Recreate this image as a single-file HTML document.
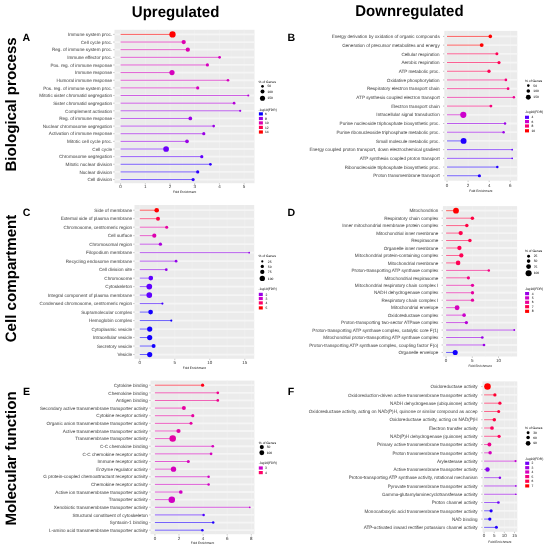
<!DOCTYPE html>
<html><head><meta charset="utf-8"><style>
html,body{margin:0;padding:0;background:#fff;width:550px;height:549px;overflow:hidden}
svg{display:block;font-family:"Liberation Sans", sans-serif;filter:blur(0.45px)} text{text-rendering:geometricPrecision}
</style></head><body>
<svg width="550" height="549" viewBox="0 0 550 549">
<rect width="550" height="549" fill="#fff"/>
<rect x="114.5" y="29.8" width="140" height="153.4" fill="#ebebeb"/>
<line x1="132.95" y1="29.8" x2="132.95" y2="183.2" stroke="#eeeeee" stroke-width="0.5"/>
<line x1="157.65" y1="29.8" x2="157.65" y2="183.2" stroke="#eeeeee" stroke-width="0.5"/>
<line x1="182.35" y1="29.8" x2="182.35" y2="183.2" stroke="#eeeeee" stroke-width="0.5"/>
<line x1="207.05" y1="29.8" x2="207.05" y2="183.2" stroke="#eeeeee" stroke-width="0.5"/>
<line x1="231.75" y1="29.8" x2="231.75" y2="183.2" stroke="#eeeeee" stroke-width="0.5"/>
<line x1="120.6" y1="29.8" x2="120.6" y2="183.2" stroke="#f1f1f1" stroke-width="0.7"/>
<line x1="145.3" y1="29.8" x2="145.3" y2="183.2" stroke="#f1f1f1" stroke-width="0.7"/>
<line x1="170" y1="29.8" x2="170" y2="183.2" stroke="#f1f1f1" stroke-width="0.7"/>
<line x1="194.7" y1="29.8" x2="194.7" y2="183.2" stroke="#f1f1f1" stroke-width="0.7"/>
<line x1="219.4" y1="29.8" x2="219.4" y2="183.2" stroke="#f1f1f1" stroke-width="0.7"/>
<line x1="244.1" y1="29.8" x2="244.1" y2="183.2" stroke="#f1f1f1" stroke-width="0.7"/>
<line x1="114.5" y1="34.4" x2="254.5" y2="34.4" stroke="#f5f5f5" stroke-width="1.8"/>
<line x1="114.5" y1="42.04" x2="254.5" y2="42.04" stroke="#f5f5f5" stroke-width="1.8"/>
<line x1="114.5" y1="49.68" x2="254.5" y2="49.68" stroke="#f5f5f5" stroke-width="1.8"/>
<line x1="114.5" y1="57.32" x2="254.5" y2="57.32" stroke="#f5f5f5" stroke-width="1.8"/>
<line x1="114.5" y1="64.96" x2="254.5" y2="64.96" stroke="#f5f5f5" stroke-width="1.8"/>
<line x1="114.5" y1="72.6" x2="254.5" y2="72.6" stroke="#f5f5f5" stroke-width="1.8"/>
<line x1="114.5" y1="80.24" x2="254.5" y2="80.24" stroke="#f5f5f5" stroke-width="1.8"/>
<line x1="114.5" y1="87.88" x2="254.5" y2="87.88" stroke="#f5f5f5" stroke-width="1.8"/>
<line x1="114.5" y1="95.52" x2="254.5" y2="95.52" stroke="#f5f5f5" stroke-width="1.8"/>
<line x1="114.5" y1="103.16" x2="254.5" y2="103.16" stroke="#f5f5f5" stroke-width="1.8"/>
<line x1="114.5" y1="110.8" x2="254.5" y2="110.8" stroke="#f5f5f5" stroke-width="1.8"/>
<line x1="114.5" y1="118.44" x2="254.5" y2="118.44" stroke="#f5f5f5" stroke-width="1.8"/>
<line x1="114.5" y1="126.08" x2="254.5" y2="126.08" stroke="#f5f5f5" stroke-width="1.8"/>
<line x1="114.5" y1="133.72" x2="254.5" y2="133.72" stroke="#f5f5f5" stroke-width="1.8"/>
<line x1="114.5" y1="141.36" x2="254.5" y2="141.36" stroke="#f5f5f5" stroke-width="1.8"/>
<line x1="114.5" y1="149" x2="254.5" y2="149" stroke="#f5f5f5" stroke-width="1.8"/>
<line x1="114.5" y1="156.64" x2="254.5" y2="156.64" stroke="#f5f5f5" stroke-width="1.8"/>
<line x1="114.5" y1="164.28" x2="254.5" y2="164.28" stroke="#f5f5f5" stroke-width="1.8"/>
<line x1="114.5" y1="171.92" x2="254.5" y2="171.92" stroke="#f5f5f5" stroke-width="1.8"/>
<line x1="114.5" y1="179.56" x2="254.5" y2="179.56" stroke="#f5f5f5" stroke-width="1.8"/>
<line x1="120.6" y1="34.4" x2="172.5" y2="34.4" stroke="#ff0000" stroke-width="1.0" stroke-opacity="0.62"/>
<circle cx="172.5" cy="34.4" r="3.15" fill="#ff0000"/>
<line x1="113.2" y1="34.4" x2="114.5" y2="34.4" stroke="#777" stroke-width="0.45"/>
<text x="112.1" y="36.1" text-anchor="end" font-size="4.63" fill="#585858" stroke="#585858" stroke-width="0.06">Immune system proc.</text>
<line x1="120.6" y1="42.04" x2="183.7" y2="42.04" stroke="#dd00af" stroke-width="1.0" stroke-opacity="0.62"/>
<circle cx="183.7" cy="42.04" r="2.15" fill="#dd00af"/>
<line x1="113.2" y1="42.04" x2="114.5" y2="42.04" stroke="#777" stroke-width="0.45"/>
<text x="112.1" y="43.74" text-anchor="end" font-size="4.63" fill="#585858" stroke="#585858" stroke-width="0.06">Cell cycle proc.</text>
<line x1="120.6" y1="49.68" x2="187.8" y2="49.68" stroke="#dd00af" stroke-width="1.0" stroke-opacity="0.62"/>
<circle cx="187.8" cy="49.68" r="2.15" fill="#dd00af"/>
<line x1="113.2" y1="49.68" x2="114.5" y2="49.68" stroke="#777" stroke-width="0.45"/>
<text x="112.1" y="51.38" text-anchor="end" font-size="4.63" fill="#585858" stroke="#585858" stroke-width="0.06">Reg. of immune system proc.</text>
<line x1="120.6" y1="57.32" x2="219.6" y2="57.32" stroke="#d500bd" stroke-width="1.0" stroke-opacity="0.62"/>
<circle cx="219.6" cy="57.32" r="1.35" fill="#d500bd"/>
<line x1="113.2" y1="57.32" x2="114.5" y2="57.32" stroke="#777" stroke-width="0.45"/>
<text x="112.1" y="59.02" text-anchor="end" font-size="4.63" fill="#585858" stroke="#585858" stroke-width="0.06">Immune effector proc.</text>
<line x1="120.6" y1="64.96" x2="207.4" y2="64.96" stroke="#d500bd" stroke-width="1.0" stroke-opacity="0.62"/>
<circle cx="207.4" cy="64.96" r="1.6" fill="#d500bd"/>
<line x1="113.2" y1="64.96" x2="114.5" y2="64.96" stroke="#777" stroke-width="0.45"/>
<text x="112.1" y="66.66" text-anchor="end" font-size="4.63" fill="#585858" stroke="#585858" stroke-width="0.06">Pos. reg. of immune response</text>
<line x1="120.6" y1="72.6" x2="172" y2="72.6" stroke="#d500bd" stroke-width="1.0" stroke-opacity="0.62"/>
<circle cx="172" cy="72.6" r="2.6" fill="#d500bd"/>
<line x1="113.2" y1="72.6" x2="114.5" y2="72.6" stroke="#777" stroke-width="0.45"/>
<text x="112.1" y="74.3" text-anchor="end" font-size="4.63" fill="#585858" stroke="#585858" stroke-width="0.06">Immune response</text>
<line x1="120.6" y1="80.24" x2="228" y2="80.24" stroke="#d500bd" stroke-width="1.0" stroke-opacity="0.62"/>
<circle cx="228" cy="80.24" r="1.35" fill="#d500bd"/>
<line x1="113.2" y1="80.24" x2="114.5" y2="80.24" stroke="#777" stroke-width="0.45"/>
<text x="112.1" y="81.94" text-anchor="end" font-size="4.63" fill="#585858" stroke="#585858" stroke-width="0.06">Humoral immune response</text>
<line x1="120.6" y1="87.88" x2="197.7" y2="87.88" stroke="#d500bd" stroke-width="1.0" stroke-opacity="0.62"/>
<circle cx="197.7" cy="87.88" r="1.6" fill="#d500bd"/>
<line x1="113.2" y1="87.88" x2="114.5" y2="87.88" stroke="#777" stroke-width="0.45"/>
<text x="112.1" y="89.58" text-anchor="end" font-size="4.63" fill="#585858" stroke="#585858" stroke-width="0.06">Pos. reg. of immune system proc.</text>
<line x1="120.6" y1="95.52" x2="248.3" y2="95.52" stroke="#b500d8" stroke-width="1.0" stroke-opacity="0.62"/>
<circle cx="248.3" cy="95.52" r="1.1" fill="#b500d8"/>
<line x1="113.2" y1="95.52" x2="114.5" y2="95.52" stroke="#777" stroke-width="0.45"/>
<text x="112.1" y="97.22" text-anchor="end" font-size="4.63" fill="#585858" stroke="#585858" stroke-width="0.06">Mitotic sister chromatid segregation</text>
<line x1="120.6" y1="103.16" x2="234.1" y2="103.16" stroke="#b500d8" stroke-width="1.0" stroke-opacity="0.62"/>
<circle cx="234.1" cy="103.16" r="1.35" fill="#b500d8"/>
<line x1="113.2" y1="103.16" x2="114.5" y2="103.16" stroke="#777" stroke-width="0.45"/>
<text x="112.1" y="104.86" text-anchor="end" font-size="4.63" fill="#585858" stroke="#585858" stroke-width="0.06">Sister chromatid segregation</text>
<line x1="120.6" y1="110.8" x2="240.2" y2="110.8" stroke="#9a00e6" stroke-width="1.0" stroke-opacity="0.62"/>
<circle cx="240.2" cy="110.8" r="1.1" fill="#9a00e6"/>
<line x1="113.2" y1="110.8" x2="114.5" y2="110.8" stroke="#777" stroke-width="0.45"/>
<text x="112.1" y="112.5" text-anchor="end" font-size="4.63" fill="#585858" stroke="#585858" stroke-width="0.06">Complement activation</text>
<line x1="120.6" y1="118.44" x2="190.3" y2="118.44" stroke="#9a00e6" stroke-width="1.0" stroke-opacity="0.62"/>
<circle cx="190.3" cy="118.44" r="1.85" fill="#9a00e6"/>
<line x1="113.2" y1="118.44" x2="114.5" y2="118.44" stroke="#777" stroke-width="0.45"/>
<text x="112.1" y="120.14" text-anchor="end" font-size="4.63" fill="#585858" stroke="#585858" stroke-width="0.06">Reg. of immune response</text>
<line x1="120.6" y1="126.08" x2="213.7" y2="126.08" stroke="#9a00e6" stroke-width="1.0" stroke-opacity="0.62"/>
<circle cx="213.7" cy="126.08" r="1.35" fill="#9a00e6"/>
<line x1="113.2" y1="126.08" x2="114.5" y2="126.08" stroke="#777" stroke-width="0.45"/>
<text x="112.1" y="127.78" text-anchor="end" font-size="4.63" fill="#585858" stroke="#585858" stroke-width="0.06">Nuclear chromosome segregation</text>
<line x1="120.6" y1="133.72" x2="203.8" y2="133.72" stroke="#9a00e6" stroke-width="1.0" stroke-opacity="0.62"/>
<circle cx="203.8" cy="133.72" r="1.6" fill="#9a00e6"/>
<line x1="113.2" y1="133.72" x2="114.5" y2="133.72" stroke="#777" stroke-width="0.45"/>
<text x="112.1" y="135.42" text-anchor="end" font-size="4.63" fill="#585858" stroke="#585858" stroke-width="0.06">Activation of immune response</text>
<line x1="120.6" y1="141.36" x2="187" y2="141.36" stroke="#9a00e6" stroke-width="1.0" stroke-opacity="0.62"/>
<circle cx="187" cy="141.36" r="1.85" fill="#9a00e6"/>
<line x1="113.2" y1="141.36" x2="114.5" y2="141.36" stroke="#777" stroke-width="0.45"/>
<text x="112.1" y="143.06" text-anchor="end" font-size="4.63" fill="#585858" stroke="#585858" stroke-width="0.06">Mitotic cell cycle proc.</text>
<line x1="120.6" y1="149" x2="166.1" y2="149" stroke="#6c00fa" stroke-width="1.0" stroke-opacity="0.62"/>
<circle cx="166.1" cy="149" r="2.85" fill="#6c00fa"/>
<line x1="113.2" y1="149" x2="114.5" y2="149" stroke="#777" stroke-width="0.45"/>
<text x="112.1" y="150.7" text-anchor="end" font-size="4.63" fill="#585858" stroke="#585858" stroke-width="0.06">Cell cycle</text>
<line x1="120.6" y1="156.64" x2="201.8" y2="156.64" stroke="#6000ff" stroke-width="1.0" stroke-opacity="0.62"/>
<circle cx="201.8" cy="156.64" r="1.6" fill="#6000ff"/>
<line x1="113.2" y1="156.64" x2="114.5" y2="156.64" stroke="#777" stroke-width="0.45"/>
<text x="112.1" y="158.34" text-anchor="end" font-size="4.63" fill="#585858" stroke="#585858" stroke-width="0.06">Chromosome segregation</text>
<line x1="120.6" y1="164.28" x2="210.4" y2="164.28" stroke="#2d00ff" stroke-width="1.0" stroke-opacity="0.62"/>
<circle cx="210.4" cy="164.28" r="1.35" fill="#2d00ff"/>
<line x1="113.2" y1="164.28" x2="114.5" y2="164.28" stroke="#777" stroke-width="0.45"/>
<text x="112.1" y="165.98" text-anchor="end" font-size="4.63" fill="#585858" stroke="#585858" stroke-width="0.06">Mitotic nuclear division</text>
<line x1="120.6" y1="171.92" x2="197.7" y2="171.92" stroke="#2d00ff" stroke-width="1.0" stroke-opacity="0.62"/>
<circle cx="197.7" cy="171.92" r="1.6" fill="#2d00ff"/>
<line x1="113.2" y1="171.92" x2="114.5" y2="171.92" stroke="#777" stroke-width="0.45"/>
<text x="112.1" y="173.62" text-anchor="end" font-size="4.63" fill="#585858" stroke="#585858" stroke-width="0.06">Nuclear division</text>
<line x1="120.6" y1="179.56" x2="193.1" y2="179.56" stroke="#2d00ff" stroke-width="1.0" stroke-opacity="0.62"/>
<circle cx="193.1" cy="179.56" r="1.6" fill="#2d00ff"/>
<line x1="113.2" y1="179.56" x2="114.5" y2="179.56" stroke="#777" stroke-width="0.45"/>
<text x="112.1" y="181.26" text-anchor="end" font-size="4.63" fill="#585858" stroke="#585858" stroke-width="0.06">Cell division</text>
<line x1="120.6" y1="183.2" x2="120.6" y2="184.6" stroke="#888" stroke-width="0.45"/>
<text x="120.6" y="188.2" text-anchor="middle" font-size="4.5" fill="#333">0</text>
<line x1="145.3" y1="183.2" x2="145.3" y2="184.6" stroke="#888" stroke-width="0.45"/>
<text x="145.3" y="188.2" text-anchor="middle" font-size="4.5" fill="#333">1</text>
<line x1="170" y1="183.2" x2="170" y2="184.6" stroke="#888" stroke-width="0.45"/>
<text x="170" y="188.2" text-anchor="middle" font-size="4.5" fill="#333">2</text>
<line x1="194.7" y1="183.2" x2="194.7" y2="184.6" stroke="#888" stroke-width="0.45"/>
<text x="194.7" y="188.2" text-anchor="middle" font-size="4.5" fill="#333">3</text>
<line x1="219.4" y1="183.2" x2="219.4" y2="184.6" stroke="#888" stroke-width="0.45"/>
<text x="219.4" y="188.2" text-anchor="middle" font-size="4.5" fill="#333">4</text>
<line x1="244.1" y1="183.2" x2="244.1" y2="184.6" stroke="#888" stroke-width="0.45"/>
<text x="244.1" y="188.2" text-anchor="middle" font-size="4.5" fill="#333">5</text>
<text x="184.5" y="193.1" text-anchor="middle" font-size="3.2" fill="#111">Fold Enrichment</text>
<text x="22.6" y="40.5" font-size="10.6" font-weight="bold" fill="#000">A</text>
<text x="258.6" y="82.7" font-size="3.3" fill="#000">% of Genes</text>
<circle cx="262.5" cy="86.3" r="1.35" fill="#000"/>
<text x="267.4" y="87.4" font-size="3.3" fill="#000">50</text>
<circle cx="262.5" cy="91.6" r="2" fill="#000"/>
<text x="267.4" y="92.7" font-size="3.3" fill="#000">100</text>
<circle cx="262.5" cy="98.2" r="2.55" fill="#000"/>
<text x="267.4" y="99.3" font-size="3.3" fill="#000">150</text>
<text x="258.6" y="110.6" font-size="3.3" fill="#000">-log10(FDR)</text>
<rect x="258.9" y="112.3" width="4" height="3.2" fill="#0000ff"/>
<text x="265" y="115" font-size="3.3" fill="#000">6</text>
<rect x="258.9" y="116.9" width="4" height="3.2" fill="#9a00e6"/>
<text x="265" y="119.6" font-size="3.3" fill="#000">8</text>
<rect x="258.9" y="121.3" width="4" height="3.2" fill="#dd00af"/>
<text x="265" y="124" font-size="3.3" fill="#000">10</text>
<rect x="258.9" y="125.8" width="4" height="3.2" fill="#ff004d"/>
<text x="265" y="128.5" font-size="3.3" fill="#000">12</text>
<rect x="258.9" y="130.4" width="4" height="3.2" fill="#ff0000"/>
<text x="265" y="133.1" font-size="3.3" fill="#000">14</text>
<rect x="444.3" y="30.9" width="73" height="149.8" fill="#ebebeb"/>
<line x1="457.55" y1="30.9" x2="457.55" y2="180.7" stroke="#eeeeee" stroke-width="0.5"/>
<line x1="478.65" y1="30.9" x2="478.65" y2="180.7" stroke="#eeeeee" stroke-width="0.5"/>
<line x1="499.75" y1="30.9" x2="499.75" y2="180.7" stroke="#eeeeee" stroke-width="0.5"/>
<line x1="447" y1="30.9" x2="447" y2="180.7" stroke="#f1f1f1" stroke-width="0.7"/>
<line x1="468.1" y1="30.9" x2="468.1" y2="180.7" stroke="#f1f1f1" stroke-width="0.7"/>
<line x1="489.2" y1="30.9" x2="489.2" y2="180.7" stroke="#f1f1f1" stroke-width="0.7"/>
<line x1="510.3" y1="30.9" x2="510.3" y2="180.7" stroke="#f1f1f1" stroke-width="0.7"/>
<line x1="444.3" y1="36.4" x2="517.3" y2="36.4" stroke="#f5f5f5" stroke-width="1.8"/>
<line x1="444.3" y1="45.11" x2="517.3" y2="45.11" stroke="#f5f5f5" stroke-width="1.8"/>
<line x1="444.3" y1="53.82" x2="517.3" y2="53.82" stroke="#f5f5f5" stroke-width="1.8"/>
<line x1="444.3" y1="62.53" x2="517.3" y2="62.53" stroke="#f5f5f5" stroke-width="1.8"/>
<line x1="444.3" y1="71.24" x2="517.3" y2="71.24" stroke="#f5f5f5" stroke-width="1.8"/>
<line x1="444.3" y1="79.95" x2="517.3" y2="79.95" stroke="#f5f5f5" stroke-width="1.8"/>
<line x1="444.3" y1="88.66" x2="517.3" y2="88.66" stroke="#f5f5f5" stroke-width="1.8"/>
<line x1="444.3" y1="97.37" x2="517.3" y2="97.37" stroke="#f5f5f5" stroke-width="1.8"/>
<line x1="444.3" y1="106.08" x2="517.3" y2="106.08" stroke="#f5f5f5" stroke-width="1.8"/>
<line x1="444.3" y1="114.79" x2="517.3" y2="114.79" stroke="#f5f5f5" stroke-width="1.8"/>
<line x1="444.3" y1="123.5" x2="517.3" y2="123.5" stroke="#f5f5f5" stroke-width="1.8"/>
<line x1="444.3" y1="132.21" x2="517.3" y2="132.21" stroke="#f5f5f5" stroke-width="1.8"/>
<line x1="444.3" y1="140.92" x2="517.3" y2="140.92" stroke="#f5f5f5" stroke-width="1.8"/>
<line x1="444.3" y1="149.63" x2="517.3" y2="149.63" stroke="#f5f5f5" stroke-width="1.8"/>
<line x1="444.3" y1="158.34" x2="517.3" y2="158.34" stroke="#f5f5f5" stroke-width="1.8"/>
<line x1="444.3" y1="167.05" x2="517.3" y2="167.05" stroke="#f5f5f5" stroke-width="1.8"/>
<line x1="444.3" y1="175.76" x2="517.3" y2="175.76" stroke="#f5f5f5" stroke-width="1.8"/>
<line x1="447" y1="36.4" x2="490.3" y2="36.4" stroke="#ff0000" stroke-width="1.0" stroke-opacity="0.62"/>
<circle cx="490.3" cy="36.4" r="1.8" fill="#ff0000"/>
<line x1="443" y1="36.4" x2="444.3" y2="36.4" stroke="#777" stroke-width="0.45"/>
<text x="439.7" y="38.1" text-anchor="end" font-size="4.6" fill="#585858" stroke="#585858" stroke-width="0.06">Energy derivation by oxidation of organic compounds</text>
<line x1="447" y1="45.11" x2="481.7" y2="45.11" stroke="#ff0000" stroke-width="1.0" stroke-opacity="0.62"/>
<circle cx="481.7" cy="45.11" r="1.95" fill="#ff0000"/>
<line x1="443" y1="45.11" x2="444.3" y2="45.11" stroke="#777" stroke-width="0.45"/>
<text x="439.7" y="46.81" text-anchor="end" font-size="4.6" fill="#585858" stroke="#585858" stroke-width="0.06">Generation of precursor metabolites and energy</text>
<line x1="447" y1="53.82" x2="496.9" y2="53.82" stroke="#ff0054" stroke-width="1.0" stroke-opacity="0.62"/>
<circle cx="496.9" cy="53.82" r="1.5" fill="#ff0054"/>
<line x1="443" y1="53.82" x2="444.3" y2="53.82" stroke="#777" stroke-width="0.45"/>
<text x="439.7" y="55.52" text-anchor="end" font-size="4.6" fill="#585858" stroke="#585858" stroke-width="0.06">Cellular respiration</text>
<line x1="447" y1="62.53" x2="499" y2="62.53" stroke="#ff0054" stroke-width="1.0" stroke-opacity="0.62"/>
<circle cx="499" cy="62.53" r="1.6" fill="#ff0054"/>
<line x1="443" y1="62.53" x2="444.3" y2="62.53" stroke="#777" stroke-width="0.45"/>
<text x="439.7" y="64.23" text-anchor="end" font-size="4.6" fill="#585858" stroke="#585858" stroke-width="0.06">Aerobic respiration</text>
<line x1="447" y1="71.24" x2="489" y2="71.24" stroke="#ff0054" stroke-width="1.0" stroke-opacity="0.62"/>
<circle cx="489" cy="71.24" r="1.65" fill="#ff0054"/>
<line x1="443" y1="71.24" x2="444.3" y2="71.24" stroke="#777" stroke-width="0.45"/>
<text x="439.7" y="72.94" text-anchor="end" font-size="4.6" fill="#585858" stroke="#585858" stroke-width="0.06">ATP metabolic proc.</text>
<line x1="447" y1="79.95" x2="505.9" y2="79.95" stroke="#f70079" stroke-width="1.0" stroke-opacity="0.62"/>
<circle cx="505.9" cy="79.95" r="1.35" fill="#f70079"/>
<line x1="443" y1="79.95" x2="444.3" y2="79.95" stroke="#777" stroke-width="0.45"/>
<text x="439.7" y="81.65" text-anchor="end" font-size="4.6" fill="#585858" stroke="#585858" stroke-width="0.06">Oxidative phosphorylation</text>
<line x1="447" y1="88.66" x2="508.1" y2="88.66" stroke="#f70079" stroke-width="1.0" stroke-opacity="0.62"/>
<circle cx="508.1" cy="88.66" r="1.35" fill="#f70079"/>
<line x1="443" y1="88.66" x2="444.3" y2="88.66" stroke="#777" stroke-width="0.45"/>
<text x="439.7" y="90.36" text-anchor="end" font-size="4.6" fill="#585858" stroke="#585858" stroke-width="0.06">Respiratory electron transport chain</text>
<line x1="447" y1="97.37" x2="513.9" y2="97.37" stroke="#ed0091" stroke-width="1.0" stroke-opacity="0.62"/>
<circle cx="513.9" cy="97.37" r="1.25" fill="#ed0091"/>
<line x1="443" y1="97.37" x2="444.3" y2="97.37" stroke="#777" stroke-width="0.45"/>
<text x="439.7" y="99.07" text-anchor="end" font-size="4.6" fill="#585858" stroke="#585858" stroke-width="0.06">ATP synthesis coupled electron transport</text>
<line x1="447" y1="106.08" x2="490.9" y2="106.08" stroke="#f70079" stroke-width="1.0" stroke-opacity="0.62"/>
<circle cx="490.9" cy="106.08" r="1.45" fill="#f70079"/>
<line x1="443" y1="106.08" x2="444.3" y2="106.08" stroke="#777" stroke-width="0.45"/>
<text x="439.7" y="107.78" text-anchor="end" font-size="4.6" fill="#585858" stroke="#585858" stroke-width="0.06">Electron transport chain</text>
<line x1="447" y1="114.79" x2="463.3" y2="114.79" stroke="#cc00cc" stroke-width="1.0" stroke-opacity="0.62"/>
<circle cx="463.3" cy="114.79" r="3.1" fill="#cc00cc"/>
<line x1="443" y1="114.79" x2="444.3" y2="114.79" stroke="#777" stroke-width="0.45"/>
<text x="439.7" y="116.49" text-anchor="end" font-size="4.6" fill="#585858" stroke="#585858" stroke-width="0.06">Intracellular signal transduction</text>
<line x1="447" y1="123.5" x2="505" y2="123.5" stroke="#9a00e6" stroke-width="1.0" stroke-opacity="0.62"/>
<circle cx="505" cy="123.5" r="1.25" fill="#9a00e6"/>
<line x1="443" y1="123.5" x2="444.3" y2="123.5" stroke="#777" stroke-width="0.45"/>
<text x="439.7" y="125.2" text-anchor="end" font-size="4.6" fill="#585858" stroke="#585858" stroke-width="0.06">Purine nucleoside triphosphate biosynthetic proc.</text>
<line x1="447" y1="132.21" x2="503.6" y2="132.21" stroke="#9a00e6" stroke-width="1.0" stroke-opacity="0.62"/>
<circle cx="503.6" cy="132.21" r="1.25" fill="#9a00e6"/>
<line x1="443" y1="132.21" x2="444.3" y2="132.21" stroke="#777" stroke-width="0.45"/>
<text x="439.7" y="133.91" text-anchor="end" font-size="4.6" fill="#585858" stroke="#585858" stroke-width="0.06">Purine ribonucleoside triphosphate metabolic proc.</text>
<line x1="447" y1="140.92" x2="463.6" y2="140.92" stroke="#2000ff" stroke-width="1.0" stroke-opacity="0.62"/>
<circle cx="463.6" cy="140.92" r="2.95" fill="#2000ff"/>
<line x1="443" y1="140.92" x2="444.3" y2="140.92" stroke="#777" stroke-width="0.45"/>
<text x="439.7" y="142.62" text-anchor="end" font-size="4.6" fill="#585858" stroke="#585858" stroke-width="0.06">Small molecule metabolic proc.</text>
<line x1="447" y1="149.63" x2="512.2" y2="149.63" stroke="#6000ff" stroke-width="1.0" stroke-opacity="0.62"/>
<circle cx="512.2" cy="149.63" r="0.85" fill="#6000ff"/>
<line x1="443" y1="149.63" x2="444.3" y2="149.63" stroke="#777" stroke-width="0.45"/>
<text x="439.7" y="151.33" text-anchor="end" font-size="4.6" fill="#585858" stroke="#585858" stroke-width="0.06">Energy coupled proton transport, down electrochemical gradient</text>
<line x1="447" y1="158.34" x2="512.2" y2="158.34" stroke="#6000ff" stroke-width="1.0" stroke-opacity="0.62"/>
<circle cx="512.2" cy="158.34" r="0.85" fill="#6000ff"/>
<line x1="443" y1="158.34" x2="444.3" y2="158.34" stroke="#777" stroke-width="0.45"/>
<text x="439.7" y="160.04" text-anchor="end" font-size="4.6" fill="#585858" stroke="#585858" stroke-width="0.06">ATP synthesis coupled proton transport</text>
<line x1="447" y1="167.05" x2="497.3" y2="167.05" stroke="#2000ff" stroke-width="1.0" stroke-opacity="0.62"/>
<circle cx="497.3" cy="167.05" r="1.25" fill="#2000ff"/>
<line x1="443" y1="167.05" x2="444.3" y2="167.05" stroke="#777" stroke-width="0.45"/>
<text x="439.7" y="168.75" text-anchor="end" font-size="4.6" fill="#585858" stroke="#585858" stroke-width="0.06">Ribonucleoside triphosphate biosynthetic proc.</text>
<line x1="447" y1="175.76" x2="479.4" y2="175.76" stroke="#2000ff" stroke-width="1.0" stroke-opacity="0.62"/>
<circle cx="479.4" cy="175.76" r="1.6" fill="#2000ff"/>
<line x1="443" y1="175.76" x2="444.3" y2="175.76" stroke="#777" stroke-width="0.45"/>
<text x="439.7" y="177.46" text-anchor="end" font-size="4.6" fill="#585858" stroke="#585858" stroke-width="0.06">Proton transmembrane transport</text>
<line x1="447" y1="180.7" x2="447" y2="182.1" stroke="#888" stroke-width="0.45"/>
<text x="447" y="186.5" text-anchor="middle" font-size="4.5" fill="#333">0</text>
<line x1="468.1" y1="180.7" x2="468.1" y2="182.1" stroke="#888" stroke-width="0.45"/>
<text x="468.1" y="186.5" text-anchor="middle" font-size="4.5" fill="#333">2</text>
<line x1="489.2" y1="180.7" x2="489.2" y2="182.1" stroke="#888" stroke-width="0.45"/>
<text x="489.2" y="186.5" text-anchor="middle" font-size="4.5" fill="#333">4</text>
<line x1="510.3" y1="180.7" x2="510.3" y2="182.1" stroke="#888" stroke-width="0.45"/>
<text x="510.3" y="186.5" text-anchor="middle" font-size="4.5" fill="#333">6</text>
<text x="480.8" y="191.7" text-anchor="middle" font-size="3.2" fill="#111">Fold Enrichment</text>
<text x="287.5" y="40.8" font-size="10.6" font-weight="bold" fill="#000">B</text>
<text x="525" y="81.9" font-size="3.3" fill="#000">% of Genes</text>
<circle cx="528.3" cy="85.6" r="1.3" fill="#000"/>
<text x="533.3" y="86.7" font-size="3.3" fill="#000">50</text>
<circle cx="528.3" cy="91" r="1.8" fill="#000"/>
<text x="533.3" y="92.1" font-size="3.3" fill="#000">100</text>
<circle cx="528.3" cy="97.2" r="2.45" fill="#000"/>
<text x="533.3" y="98.3" font-size="3.3" fill="#000">150</text>
<text x="525" y="113.3" font-size="3.3" fill="#000">-log10(FDR)</text>
<rect x="525" y="115.7" width="4" height="3.2" fill="#5300ff"/>
<text x="531.5" y="118.4" font-size="3.3" fill="#000">4</text>
<rect x="525" y="120" width="4" height="3.2" fill="#cc00cc"/>
<text x="531.5" y="122.7" font-size="3.3" fill="#000">6</text>
<rect x="525" y="124.4" width="4" height="3.2" fill="#fa0072"/>
<text x="531.5" y="127.1" font-size="3.3" fill="#000">8</text>
<rect x="525" y="129.2" width="4" height="3.2" fill="#ff0000"/>
<text x="531.5" y="131.9" font-size="3.3" fill="#000">10</text>
<rect x="134.5" y="205" width="119.7" height="153.8" fill="#ebebeb"/>
<line x1="157.3" y1="205" x2="157.3" y2="358.8" stroke="#eeeeee" stroke-width="0.5"/>
<line x1="192.3" y1="205" x2="192.3" y2="358.8" stroke="#eeeeee" stroke-width="0.5"/>
<line x1="227.3" y1="205" x2="227.3" y2="358.8" stroke="#eeeeee" stroke-width="0.5"/>
<line x1="139.8" y1="205" x2="139.8" y2="358.8" stroke="#f1f1f1" stroke-width="0.7"/>
<line x1="174.8" y1="205" x2="174.8" y2="358.8" stroke="#f1f1f1" stroke-width="0.7"/>
<line x1="209.8" y1="205" x2="209.8" y2="358.8" stroke="#f1f1f1" stroke-width="0.7"/>
<line x1="244.8" y1="205" x2="244.8" y2="358.8" stroke="#f1f1f1" stroke-width="0.7"/>
<line x1="134.5" y1="210.2" x2="254.2" y2="210.2" stroke="#f5f5f5" stroke-width="1.8"/>
<line x1="134.5" y1="218.69" x2="254.2" y2="218.69" stroke="#f5f5f5" stroke-width="1.8"/>
<line x1="134.5" y1="227.18" x2="254.2" y2="227.18" stroke="#f5f5f5" stroke-width="1.8"/>
<line x1="134.5" y1="235.67" x2="254.2" y2="235.67" stroke="#f5f5f5" stroke-width="1.8"/>
<line x1="134.5" y1="244.16" x2="254.2" y2="244.16" stroke="#f5f5f5" stroke-width="1.8"/>
<line x1="134.5" y1="252.65" x2="254.2" y2="252.65" stroke="#f5f5f5" stroke-width="1.8"/>
<line x1="134.5" y1="261.14" x2="254.2" y2="261.14" stroke="#f5f5f5" stroke-width="1.8"/>
<line x1="134.5" y1="269.63" x2="254.2" y2="269.63" stroke="#f5f5f5" stroke-width="1.8"/>
<line x1="134.5" y1="278.12" x2="254.2" y2="278.12" stroke="#f5f5f5" stroke-width="1.8"/>
<line x1="134.5" y1="286.61" x2="254.2" y2="286.61" stroke="#f5f5f5" stroke-width="1.8"/>
<line x1="134.5" y1="295.1" x2="254.2" y2="295.1" stroke="#f5f5f5" stroke-width="1.8"/>
<line x1="134.5" y1="303.59" x2="254.2" y2="303.59" stroke="#f5f5f5" stroke-width="1.8"/>
<line x1="134.5" y1="312.08" x2="254.2" y2="312.08" stroke="#f5f5f5" stroke-width="1.8"/>
<line x1="134.5" y1="320.57" x2="254.2" y2="320.57" stroke="#f5f5f5" stroke-width="1.8"/>
<line x1="134.5" y1="329.06" x2="254.2" y2="329.06" stroke="#f5f5f5" stroke-width="1.8"/>
<line x1="134.5" y1="337.55" x2="254.2" y2="337.55" stroke="#f5f5f5" stroke-width="1.8"/>
<line x1="134.5" y1="346.04" x2="254.2" y2="346.04" stroke="#f5f5f5" stroke-width="1.8"/>
<line x1="134.5" y1="354.53" x2="254.2" y2="354.53" stroke="#f5f5f5" stroke-width="1.8"/>
<line x1="139.8" y1="210.2" x2="156.7" y2="210.2" stroke="#ff0000" stroke-width="1.0" stroke-opacity="0.62"/>
<circle cx="156.7" cy="210.2" r="2.3" fill="#ff0000"/>
<line x1="133.2" y1="210.2" x2="134.5" y2="210.2" stroke="#777" stroke-width="0.45"/>
<text x="132.1" y="211.9" text-anchor="end" font-size="4.63" fill="#585858" stroke="#585858" stroke-width="0.06">Side of membrane</text>
<line x1="139.8" y1="218.69" x2="158" y2="218.69" stroke="#ff0042" stroke-width="1.0" stroke-opacity="0.62"/>
<circle cx="158" cy="218.69" r="2" fill="#ff0042"/>
<line x1="133.2" y1="218.69" x2="134.5" y2="218.69" stroke="#777" stroke-width="0.45"/>
<text x="132.1" y="220.39" text-anchor="end" font-size="4.63" fill="#585858" stroke="#585858" stroke-width="0.06">External side of plasma membrane</text>
<line x1="139.8" y1="227.18" x2="166.7" y2="227.18" stroke="#e600a0" stroke-width="1.0" stroke-opacity="0.62"/>
<circle cx="166.7" cy="227.18" r="1.55" fill="#e600a0"/>
<line x1="133.2" y1="227.18" x2="134.5" y2="227.18" stroke="#777" stroke-width="0.45"/>
<text x="132.1" y="228.88" text-anchor="end" font-size="4.63" fill="#585858" stroke="#585858" stroke-width="0.06">Chromosome, centromeric region</text>
<line x1="139.8" y1="235.67" x2="154.3" y2="235.67" stroke="#dd00af" stroke-width="1.0" stroke-opacity="0.62"/>
<circle cx="154.3" cy="235.67" r="2.1" fill="#dd00af"/>
<line x1="133.2" y1="235.67" x2="134.5" y2="235.67" stroke="#777" stroke-width="0.45"/>
<text x="132.1" y="237.37" text-anchor="end" font-size="4.63" fill="#585858" stroke="#585858" stroke-width="0.06">Cell surface</text>
<line x1="139.8" y1="244.16" x2="160.4" y2="244.16" stroke="#ab00dd" stroke-width="1.0" stroke-opacity="0.62"/>
<circle cx="160.4" cy="244.16" r="1.65" fill="#ab00dd"/>
<line x1="133.2" y1="244.16" x2="134.5" y2="244.16" stroke="#777" stroke-width="0.45"/>
<text x="132.1" y="245.86" text-anchor="end" font-size="4.63" fill="#585858" stroke="#585858" stroke-width="0.06">Chromosomal region</text>
<line x1="139.8" y1="252.65" x2="249.2" y2="252.65" stroke="#9200e9" stroke-width="1.0" stroke-opacity="0.62"/>
<circle cx="249.2" cy="252.65" r="0.85" fill="#9200e9"/>
<line x1="133.2" y1="252.65" x2="134.5" y2="252.65" stroke="#777" stroke-width="0.45"/>
<text x="132.1" y="254.35" text-anchor="end" font-size="4.63" fill="#585858" stroke="#585858" stroke-width="0.06">Filopodium membrane</text>
<line x1="139.8" y1="261.14" x2="176.1" y2="261.14" stroke="#9200e9" stroke-width="1.0" stroke-opacity="0.62"/>
<circle cx="176.1" cy="261.14" r="1.35" fill="#9200e9"/>
<line x1="133.2" y1="261.14" x2="134.5" y2="261.14" stroke="#777" stroke-width="0.45"/>
<text x="132.1" y="262.84" text-anchor="end" font-size="4.63" fill="#585858" stroke="#585858" stroke-width="0.06">Recycling endosome membrane</text>
<line x1="139.8" y1="269.63" x2="166.3" y2="269.63" stroke="#9200e9" stroke-width="1.0" stroke-opacity="0.62"/>
<circle cx="166.3" cy="269.63" r="1.35" fill="#9200e9"/>
<line x1="133.2" y1="269.63" x2="134.5" y2="269.63" stroke="#777" stroke-width="0.45"/>
<text x="132.1" y="271.33" text-anchor="end" font-size="4.63" fill="#585858" stroke="#585858" stroke-width="0.06">Cell division site</text>
<line x1="139.8" y1="278.12" x2="150.8" y2="278.12" stroke="#6000ff" stroke-width="1.0" stroke-opacity="0.62"/>
<circle cx="150.8" cy="278.12" r="2.35" fill="#6000ff"/>
<line x1="133.2" y1="278.12" x2="134.5" y2="278.12" stroke="#777" stroke-width="0.45"/>
<text x="132.1" y="279.82" text-anchor="end" font-size="4.63" fill="#585858" stroke="#585858" stroke-width="0.06">Chromosome</text>
<line x1="139.8" y1="286.61" x2="149.3" y2="286.61" stroke="#6000ff" stroke-width="1.0" stroke-opacity="0.62"/>
<circle cx="149.3" cy="286.61" r="2.85" fill="#6000ff"/>
<line x1="133.2" y1="286.61" x2="134.5" y2="286.61" stroke="#777" stroke-width="0.45"/>
<text x="132.1" y="288.31" text-anchor="end" font-size="4.63" fill="#585858" stroke="#585858" stroke-width="0.06">Cytoskeleton</text>
<line x1="139.8" y1="295.1" x2="149.3" y2="295.1" stroke="#6000ff" stroke-width="1.0" stroke-opacity="0.62"/>
<circle cx="149.3" cy="295.1" r="2.85" fill="#6000ff"/>
<line x1="133.2" y1="295.1" x2="134.5" y2="295.1" stroke="#777" stroke-width="0.45"/>
<text x="132.1" y="296.8" text-anchor="end" font-size="4.63" fill="#585858" stroke="#585858" stroke-width="0.06">Integral component of plasma membrane</text>
<line x1="139.8" y1="303.59" x2="162.4" y2="303.59" stroke="#4000ff" stroke-width="1.0" stroke-opacity="0.62"/>
<circle cx="162.4" cy="303.59" r="1.1" fill="#4000ff"/>
<line x1="133.2" y1="303.59" x2="134.5" y2="303.59" stroke="#777" stroke-width="0.45"/>
<text x="132.1" y="305.29" text-anchor="end" font-size="4.63" fill="#585858" stroke="#585858" stroke-width="0.06">Condensed chromosome, centromeric region</text>
<line x1="139.8" y1="312.08" x2="150.6" y2="312.08" stroke="#1300ff" stroke-width="1.0" stroke-opacity="0.62"/>
<circle cx="150.6" cy="312.08" r="2.35" fill="#1300ff"/>
<line x1="133.2" y1="312.08" x2="134.5" y2="312.08" stroke="#777" stroke-width="0.45"/>
<text x="132.1" y="313.78" text-anchor="end" font-size="4.63" fill="#585858" stroke="#585858" stroke-width="0.06">Supramolecular complex</text>
<line x1="139.8" y1="320.57" x2="171.3" y2="320.57" stroke="#1300ff" stroke-width="1.0" stroke-opacity="0.62"/>
<circle cx="171.3" cy="320.57" r="1.1" fill="#1300ff"/>
<line x1="133.2" y1="320.57" x2="134.5" y2="320.57" stroke="#777" stroke-width="0.45"/>
<text x="132.1" y="322.27" text-anchor="end" font-size="4.63" fill="#585858" stroke="#585858" stroke-width="0.06">Hemoglobin complex</text>
<line x1="139.8" y1="329.06" x2="149.7" y2="329.06" stroke="#1300ff" stroke-width="1.0" stroke-opacity="0.62"/>
<circle cx="149.7" cy="329.06" r="2.6" fill="#1300ff"/>
<line x1="133.2" y1="329.06" x2="134.5" y2="329.06" stroke="#777" stroke-width="0.45"/>
<text x="132.1" y="330.76" text-anchor="end" font-size="4.63" fill="#585858" stroke="#585858" stroke-width="0.06">Cytoplasmic vesicle</text>
<line x1="139.8" y1="337.55" x2="149.7" y2="337.55" stroke="#1300ff" stroke-width="1.0" stroke-opacity="0.62"/>
<circle cx="149.7" cy="337.55" r="2.6" fill="#1300ff"/>
<line x1="133.2" y1="337.55" x2="134.5" y2="337.55" stroke="#777" stroke-width="0.45"/>
<text x="132.1" y="339.25" text-anchor="end" font-size="4.63" fill="#585858" stroke="#585858" stroke-width="0.06">Intracellular vesicle</text>
<line x1="139.8" y1="346.04" x2="153.6" y2="346.04" stroke="#1300ff" stroke-width="1.0" stroke-opacity="0.62"/>
<circle cx="153.6" cy="346.04" r="2" fill="#1300ff"/>
<line x1="133.2" y1="346.04" x2="134.5" y2="346.04" stroke="#777" stroke-width="0.45"/>
<text x="132.1" y="347.74" text-anchor="end" font-size="4.63" fill="#585858" stroke="#585858" stroke-width="0.06">Secretory vesicle</text>
<line x1="139.8" y1="354.53" x2="149.7" y2="354.53" stroke="#1300ff" stroke-width="1.0" stroke-opacity="0.62"/>
<circle cx="149.7" cy="354.53" r="2.6" fill="#1300ff"/>
<line x1="133.2" y1="354.53" x2="134.5" y2="354.53" stroke="#777" stroke-width="0.45"/>
<text x="132.1" y="356.23" text-anchor="end" font-size="4.63" fill="#585858" stroke="#585858" stroke-width="0.06">Vesicle</text>
<line x1="139.8" y1="358.8" x2="139.8" y2="360.2" stroke="#888" stroke-width="0.45"/>
<text x="139.8" y="364.3" text-anchor="middle" font-size="4.5" fill="#333">0</text>
<line x1="174.8" y1="358.8" x2="174.8" y2="360.2" stroke="#888" stroke-width="0.45"/>
<text x="174.8" y="364.3" text-anchor="middle" font-size="4.5" fill="#333">5</text>
<line x1="209.8" y1="358.8" x2="209.8" y2="360.2" stroke="#888" stroke-width="0.45"/>
<text x="209.8" y="364.3" text-anchor="middle" font-size="4.5" fill="#333">10</text>
<line x1="244.8" y1="358.8" x2="244.8" y2="360.2" stroke="#888" stroke-width="0.45"/>
<text x="244.8" y="364.3" text-anchor="middle" font-size="4.5" fill="#333">15</text>
<text x="194.35" y="368.7" text-anchor="middle" font-size="3.2" fill="#111">Fold Enrichment</text>
<text x="22.8" y="215.9" font-size="10.6" font-weight="bold" fill="#000">C</text>
<text x="258.6" y="257.2" font-size="3.3" fill="#000">% of Genes</text>
<circle cx="262.3" cy="261.4" r="1.1" fill="#000"/>
<text x="267.8" y="262.5" font-size="3.3" fill="#000">25</text>
<circle cx="262.3" cy="266.4" r="1.65" fill="#000"/>
<text x="267.8" y="267.5" font-size="3.3" fill="#000">50</text>
<circle cx="262.3" cy="271.9" r="2.15" fill="#000"/>
<text x="267.8" y="273" font-size="3.3" fill="#000">75</text>
<circle cx="262.3" cy="278.4" r="2.65" fill="#000"/>
<text x="267.8" y="279.5" font-size="3.3" fill="#000">100</text>
<text x="258.6" y="290.4" font-size="3.3" fill="#000">-log10(FDR)</text>
<rect x="258.8" y="292.8" width="4" height="3.2" fill="#9a00e6"/>
<text x="265.5" y="295.5" font-size="3.3" fill="#000">2</text>
<rect x="258.8" y="296.9" width="4" height="3.2" fill="#cc00cc"/>
<text x="265.5" y="299.6" font-size="3.3" fill="#000">3</text>
<rect x="258.8" y="301.3" width="4" height="3.2" fill="#ff0066"/>
<text x="265.5" y="304" font-size="3.3" fill="#000">4</text>
<rect x="258.8" y="306.3" width="4" height="3.2" fill="#ff0000"/>
<text x="265.5" y="309" font-size="3.3" fill="#000">5</text>
<rect x="442.9" y="206.1" width="74.2" height="150.4" fill="#ebebeb"/>
<line x1="459.2" y1="206.1" x2="459.2" y2="356.5" stroke="#eeeeee" stroke-width="0.5"/>
<line x1="485.4" y1="206.1" x2="485.4" y2="356.5" stroke="#eeeeee" stroke-width="0.5"/>
<line x1="511.6" y1="206.1" x2="511.6" y2="356.5" stroke="#eeeeee" stroke-width="0.5"/>
<line x1="446.1" y1="206.1" x2="446.1" y2="356.5" stroke="#f1f1f1" stroke-width="0.7"/>
<line x1="472.3" y1="206.1" x2="472.3" y2="356.5" stroke="#f1f1f1" stroke-width="0.7"/>
<line x1="498.5" y1="206.1" x2="498.5" y2="356.5" stroke="#f1f1f1" stroke-width="0.7"/>
<line x1="442.9" y1="210.7" x2="517.1" y2="210.7" stroke="#f5f5f5" stroke-width="1.8"/>
<line x1="442.9" y1="218.16" x2="517.1" y2="218.16" stroke="#f5f5f5" stroke-width="1.8"/>
<line x1="442.9" y1="225.62" x2="517.1" y2="225.62" stroke="#f5f5f5" stroke-width="1.8"/>
<line x1="442.9" y1="233.08" x2="517.1" y2="233.08" stroke="#f5f5f5" stroke-width="1.8"/>
<line x1="442.9" y1="240.54" x2="517.1" y2="240.54" stroke="#f5f5f5" stroke-width="1.8"/>
<line x1="442.9" y1="248" x2="517.1" y2="248" stroke="#f5f5f5" stroke-width="1.8"/>
<line x1="442.9" y1="255.46" x2="517.1" y2="255.46" stroke="#f5f5f5" stroke-width="1.8"/>
<line x1="442.9" y1="262.92" x2="517.1" y2="262.92" stroke="#f5f5f5" stroke-width="1.8"/>
<line x1="442.9" y1="270.38" x2="517.1" y2="270.38" stroke="#f5f5f5" stroke-width="1.8"/>
<line x1="442.9" y1="277.84" x2="517.1" y2="277.84" stroke="#f5f5f5" stroke-width="1.8"/>
<line x1="442.9" y1="285.3" x2="517.1" y2="285.3" stroke="#f5f5f5" stroke-width="1.8"/>
<line x1="442.9" y1="292.76" x2="517.1" y2="292.76" stroke="#f5f5f5" stroke-width="1.8"/>
<line x1="442.9" y1="300.22" x2="517.1" y2="300.22" stroke="#f5f5f5" stroke-width="1.8"/>
<line x1="442.9" y1="307.68" x2="517.1" y2="307.68" stroke="#f5f5f5" stroke-width="1.8"/>
<line x1="442.9" y1="315.14" x2="517.1" y2="315.14" stroke="#f5f5f5" stroke-width="1.8"/>
<line x1="442.9" y1="322.6" x2="517.1" y2="322.6" stroke="#f5f5f5" stroke-width="1.8"/>
<line x1="442.9" y1="330.06" x2="517.1" y2="330.06" stroke="#f5f5f5" stroke-width="1.8"/>
<line x1="442.9" y1="337.52" x2="517.1" y2="337.52" stroke="#f5f5f5" stroke-width="1.8"/>
<line x1="442.9" y1="344.98" x2="517.1" y2="344.98" stroke="#f5f5f5" stroke-width="1.8"/>
<line x1="442.9" y1="352.44" x2="517.1" y2="352.44" stroke="#f5f5f5" stroke-width="1.8"/>
<line x1="446.1" y1="210.7" x2="456" y2="210.7" stroke="#ff0000" stroke-width="1.0" stroke-opacity="0.62"/>
<circle cx="456" cy="210.7" r="2.9" fill="#ff0000"/>
<line x1="441.6" y1="210.7" x2="442.9" y2="210.7" stroke="#777" stroke-width="0.45"/>
<text x="438.3" y="212.4" text-anchor="end" font-size="4.6" fill="#585858" stroke="#585858" stroke-width="0.06">Mitochondrion</text>
<line x1="446.1" y1="218.16" x2="472.4" y2="218.16" stroke="#ff0042" stroke-width="1.0" stroke-opacity="0.62"/>
<circle cx="472.4" cy="218.16" r="1.75" fill="#ff0042"/>
<line x1="441.6" y1="218.16" x2="442.9" y2="218.16" stroke="#777" stroke-width="0.45"/>
<text x="438.3" y="219.86" text-anchor="end" font-size="4.6" fill="#585858" stroke="#585858" stroke-width="0.06">Respiratory chain complex</text>
<line x1="446.1" y1="225.62" x2="466.8" y2="225.62" stroke="#ff0042" stroke-width="1.0" stroke-opacity="0.62"/>
<circle cx="466.8" cy="225.62" r="1.75" fill="#ff0042"/>
<line x1="441.6" y1="225.62" x2="442.9" y2="225.62" stroke="#777" stroke-width="0.45"/>
<text x="438.3" y="227.32" text-anchor="end" font-size="4.6" fill="#585858" stroke="#585858" stroke-width="0.06">Inner mitochondrial membrane protein complex</text>
<line x1="446.1" y1="233.08" x2="460.7" y2="233.08" stroke="#ff004d" stroke-width="1.0" stroke-opacity="0.62"/>
<circle cx="460.7" cy="233.08" r="2.15" fill="#ff004d"/>
<line x1="441.6" y1="233.08" x2="442.9" y2="233.08" stroke="#777" stroke-width="0.45"/>
<text x="438.3" y="234.78" text-anchor="end" font-size="4.6" fill="#585858" stroke="#585858" stroke-width="0.06">Mitochondrial inner membrane</text>
<line x1="446.1" y1="240.54" x2="469.9" y2="240.54" stroke="#ff004d" stroke-width="1.0" stroke-opacity="0.62"/>
<circle cx="469.9" cy="240.54" r="1.75" fill="#ff004d"/>
<line x1="441.6" y1="240.54" x2="442.9" y2="240.54" stroke="#777" stroke-width="0.45"/>
<text x="438.3" y="242.24" text-anchor="end" font-size="4.6" fill="#585858" stroke="#585858" stroke-width="0.06">Respirasome</text>
<line x1="446.1" y1="248" x2="459.4" y2="248" stroke="#ff0054" stroke-width="1.0" stroke-opacity="0.62"/>
<circle cx="459.4" cy="248" r="2.15" fill="#ff0054"/>
<line x1="441.6" y1="248" x2="442.9" y2="248" stroke="#777" stroke-width="0.45"/>
<text x="438.3" y="249.7" text-anchor="end" font-size="4.6" fill="#585858" stroke="#585858" stroke-width="0.06">Organelle inner membrane</text>
<line x1="446.1" y1="255.46" x2="461.3" y2="255.46" stroke="#ff0054" stroke-width="1.0" stroke-opacity="0.62"/>
<circle cx="461.3" cy="255.46" r="2.15" fill="#ff0054"/>
<line x1="441.6" y1="255.46" x2="442.9" y2="255.46" stroke="#777" stroke-width="0.45"/>
<text x="438.3" y="257.16" text-anchor="end" font-size="4.6" fill="#585858" stroke="#585858" stroke-width="0.06">Mitochondrial protein-containing complex</text>
<line x1="446.1" y1="262.92" x2="458.1" y2="262.92" stroke="#ff0054" stroke-width="1.0" stroke-opacity="0.62"/>
<circle cx="458.1" cy="262.92" r="2.3" fill="#ff0054"/>
<line x1="441.6" y1="262.92" x2="442.9" y2="262.92" stroke="#777" stroke-width="0.45"/>
<text x="438.3" y="264.62" text-anchor="end" font-size="4.6" fill="#585858" stroke="#585858" stroke-width="0.06">Mitochondrial membrane</text>
<line x1="446.1" y1="270.38" x2="488.8" y2="270.38" stroke="#f30081" stroke-width="1.0" stroke-opacity="0.62"/>
<circle cx="488.8" cy="270.38" r="1.25" fill="#f30081"/>
<line x1="441.6" y1="270.38" x2="442.9" y2="270.38" stroke="#777" stroke-width="0.45"/>
<text x="438.3" y="272.08" text-anchor="end" font-size="4.6" fill="#585858" stroke="#585858" stroke-width="0.06">Proton-transporting ATP synthase complex</text>
<line x1="446.1" y1="277.84" x2="468.4" y2="277.84" stroke="#f30081" stroke-width="1.0" stroke-opacity="0.62"/>
<circle cx="468.4" cy="277.84" r="1.6" fill="#f30081"/>
<line x1="441.6" y1="277.84" x2="442.9" y2="277.84" stroke="#777" stroke-width="0.45"/>
<text x="438.3" y="279.54" text-anchor="end" font-size="4.6" fill="#585858" stroke="#585858" stroke-width="0.06">Mitochondrial respirasome</text>
<line x1="446.1" y1="285.3" x2="472.5" y2="285.3" stroke="#e600a0" stroke-width="1.0" stroke-opacity="0.62"/>
<circle cx="472.5" cy="285.3" r="1.65" fill="#e600a0"/>
<line x1="441.6" y1="285.3" x2="442.9" y2="285.3" stroke="#777" stroke-width="0.45"/>
<text x="438.3" y="287" text-anchor="end" font-size="4.6" fill="#585858" stroke="#585858" stroke-width="0.06">Mitochondrial respiratory chain complex I</text>
<line x1="446.1" y1="292.76" x2="472.5" y2="292.76" stroke="#e600a0" stroke-width="1.0" stroke-opacity="0.62"/>
<circle cx="472.5" cy="292.76" r="1.65" fill="#e600a0"/>
<line x1="441.6" y1="292.76" x2="442.9" y2="292.76" stroke="#777" stroke-width="0.45"/>
<text x="438.3" y="294.46" text-anchor="end" font-size="4.6" fill="#585858" stroke="#585858" stroke-width="0.06">NADH dehydrogenase complex</text>
<line x1="446.1" y1="300.22" x2="472.5" y2="300.22" stroke="#e600a0" stroke-width="1.0" stroke-opacity="0.62"/>
<circle cx="472.5" cy="300.22" r="1.65" fill="#e600a0"/>
<line x1="441.6" y1="300.22" x2="442.9" y2="300.22" stroke="#777" stroke-width="0.45"/>
<text x="438.3" y="301.92" text-anchor="end" font-size="4.6" fill="#585858" stroke="#585858" stroke-width="0.06">Respiratory chain complex I</text>
<line x1="446.1" y1="307.68" x2="457.1" y2="307.68" stroke="#d500bd" stroke-width="1.0" stroke-opacity="0.62"/>
<circle cx="457.1" cy="307.68" r="2.45" fill="#d500bd"/>
<line x1="441.6" y1="307.68" x2="442.9" y2="307.68" stroke="#777" stroke-width="0.45"/>
<text x="438.3" y="309.38" text-anchor="end" font-size="4.6" fill="#585858" stroke="#585858" stroke-width="0.06">Mitochondrial envelope</text>
<line x1="446.1" y1="315.14" x2="464.1" y2="315.14" stroke="#cc00cc" stroke-width="1.0" stroke-opacity="0.62"/>
<circle cx="464.1" cy="315.14" r="1.8" fill="#cc00cc"/>
<line x1="441.6" y1="315.14" x2="442.9" y2="315.14" stroke="#777" stroke-width="0.45"/>
<text x="438.3" y="316.84" text-anchor="end" font-size="4.6" fill="#585858" stroke="#585858" stroke-width="0.06">Oxidoreductase complex</text>
<line x1="446.1" y1="322.6" x2="466.4" y2="322.6" stroke="#b500d8" stroke-width="1.0" stroke-opacity="0.62"/>
<circle cx="466.4" cy="322.6" r="1.65" fill="#b500d8"/>
<line x1="441.6" y1="322.6" x2="442.9" y2="322.6" stroke="#777" stroke-width="0.45"/>
<text x="438.3" y="324.3" text-anchor="end" font-size="4.6" fill="#585858" stroke="#585858" stroke-width="0.06">Proton-transporting two-sector ATPase complex</text>
<line x1="446.1" y1="330.06" x2="514.3" y2="330.06" stroke="#9a00e6" stroke-width="1.0" stroke-opacity="0.62"/>
<circle cx="514.3" cy="330.06" r="0.95" fill="#9a00e6"/>
<line x1="441.6" y1="330.06" x2="442.9" y2="330.06" stroke="#777" stroke-width="0.45"/>
<text x="438.3" y="331.76" text-anchor="end" font-size="4.6" fill="#585858" stroke="#585858" stroke-width="0.06">Proton-transporting ATP synthase complex, catalytic core F(1)</text>
<line x1="446.1" y1="337.52" x2="482.3" y2="337.52" stroke="#9a00e6" stroke-width="1.0" stroke-opacity="0.62"/>
<circle cx="482.3" cy="337.52" r="1.35" fill="#9a00e6"/>
<line x1="441.6" y1="337.52" x2="442.9" y2="337.52" stroke="#777" stroke-width="0.45"/>
<text x="438.3" y="339.22" text-anchor="end" font-size="4.6" fill="#585858" stroke="#585858" stroke-width="0.06">Mitochondrial proton-transporting ATP synthase complex</text>
<line x1="446.1" y1="344.98" x2="484" y2="344.98" stroke="#9a00e6" stroke-width="1.0" stroke-opacity="0.62"/>
<circle cx="484" cy="344.98" r="1.35" fill="#9a00e6"/>
<line x1="441.6" y1="344.98" x2="442.9" y2="344.98" stroke="#777" stroke-width="0.45"/>
<text x="438.3" y="346.68" text-anchor="end" font-size="4.6" fill="#585858" stroke="#585858" stroke-width="0.06">Proton-transporting ATP synthase complex, coupling factor F(o)</text>
<line x1="446.1" y1="352.44" x2="455.2" y2="352.44" stroke="#1300ff" stroke-width="1.0" stroke-opacity="0.62"/>
<circle cx="455.2" cy="352.44" r="2.55" fill="#1300ff"/>
<line x1="441.6" y1="352.44" x2="442.9" y2="352.44" stroke="#777" stroke-width="0.45"/>
<text x="438.3" y="354.14" text-anchor="end" font-size="4.6" fill="#585858" stroke="#585858" stroke-width="0.06">Organelle envelope</text>
<line x1="446.1" y1="356.5" x2="446.1" y2="357.9" stroke="#888" stroke-width="0.45"/>
<text x="446.1" y="362.4" text-anchor="middle" font-size="4.5" fill="#333">0</text>
<line x1="472.3" y1="356.5" x2="472.3" y2="357.9" stroke="#888" stroke-width="0.45"/>
<text x="472.3" y="362.4" text-anchor="middle" font-size="4.5" fill="#333">5</text>
<line x1="498.5" y1="356.5" x2="498.5" y2="357.9" stroke="#888" stroke-width="0.45"/>
<text x="498.5" y="362.4" text-anchor="middle" font-size="4.5" fill="#333">10</text>
<text x="480" y="367.1" text-anchor="middle" font-size="3.2" fill="#111">Fold Enrichment</text>
<text x="287.5" y="215.9" font-size="10.6" font-weight="bold" fill="#000">D</text>
<text x="524.9" y="252" font-size="3.3" fill="#000">% of Genes</text>
<circle cx="528.6" cy="256.3" r="1.45" fill="#000"/>
<text x="533.7" y="257.4" font-size="3.3" fill="#000">25</text>
<circle cx="528.6" cy="261.1" r="1.8" fill="#000"/>
<text x="533.7" y="262.2" font-size="3.3" fill="#000">50</text>
<circle cx="528.6" cy="266.6" r="2.4" fill="#000"/>
<text x="533.7" y="267.7" font-size="3.3" fill="#000">75</text>
<circle cx="528.6" cy="273.2" r="3.05" fill="#000"/>
<text x="533.7" y="274.3" font-size="3.3" fill="#000">100</text>
<text x="524.9" y="289.6" font-size="3.3" fill="#000">-log10(FDR)</text>
<rect x="525.1" y="292" width="4" height="3.2" fill="#9a00e6"/>
<text x="531.8" y="294.7" font-size="3.3" fill="#000">4</text>
<rect x="525.1" y="296.3" width="4" height="3.2" fill="#cc00cc"/>
<text x="531.8" y="299" font-size="3.3" fill="#000">5</text>
<rect x="525.1" y="300.7" width="4" height="3.2" fill="#e90098"/>
<text x="531.8" y="303.4" font-size="3.3" fill="#000">6</text>
<rect x="525.1" y="305.1" width="4" height="3.2" fill="#ff004d"/>
<text x="531.8" y="307.8" font-size="3.3" fill="#000">7</text>
<rect x="525.1" y="309.7" width="4" height="3.2" fill="#ff0000"/>
<text x="531.8" y="312.4" font-size="3.3" fill="#000">8</text>
<rect x="150.5" y="380.6" width="103.9" height="153.6" fill="#ebebeb"/>
<line x1="166.95" y1="380.6" x2="166.95" y2="534.2" stroke="#eeeeee" stroke-width="0.5"/>
<line x1="191.05" y1="380.6" x2="191.05" y2="534.2" stroke="#eeeeee" stroke-width="0.5"/>
<line x1="215.15" y1="380.6" x2="215.15" y2="534.2" stroke="#eeeeee" stroke-width="0.5"/>
<line x1="239.25" y1="380.6" x2="239.25" y2="534.2" stroke="#eeeeee" stroke-width="0.5"/>
<line x1="154.9" y1="380.6" x2="154.9" y2="534.2" stroke="#f1f1f1" stroke-width="0.7"/>
<line x1="179" y1="380.6" x2="179" y2="534.2" stroke="#f1f1f1" stroke-width="0.7"/>
<line x1="203.1" y1="380.6" x2="203.1" y2="534.2" stroke="#f1f1f1" stroke-width="0.7"/>
<line x1="227.2" y1="380.6" x2="227.2" y2="534.2" stroke="#f1f1f1" stroke-width="0.7"/>
<line x1="251.3" y1="380.6" x2="251.3" y2="534.2" stroke="#f1f1f1" stroke-width="0.7"/>
<line x1="150.5" y1="385.2" x2="254.4" y2="385.2" stroke="#f5f5f5" stroke-width="1.8"/>
<line x1="150.5" y1="392.83" x2="254.4" y2="392.83" stroke="#f5f5f5" stroke-width="1.8"/>
<line x1="150.5" y1="400.46" x2="254.4" y2="400.46" stroke="#f5f5f5" stroke-width="1.8"/>
<line x1="150.5" y1="408.09" x2="254.4" y2="408.09" stroke="#f5f5f5" stroke-width="1.8"/>
<line x1="150.5" y1="415.72" x2="254.4" y2="415.72" stroke="#f5f5f5" stroke-width="1.8"/>
<line x1="150.5" y1="423.35" x2="254.4" y2="423.35" stroke="#f5f5f5" stroke-width="1.8"/>
<line x1="150.5" y1="430.98" x2="254.4" y2="430.98" stroke="#f5f5f5" stroke-width="1.8"/>
<line x1="150.5" y1="438.61" x2="254.4" y2="438.61" stroke="#f5f5f5" stroke-width="1.8"/>
<line x1="150.5" y1="446.24" x2="254.4" y2="446.24" stroke="#f5f5f5" stroke-width="1.8"/>
<line x1="150.5" y1="453.87" x2="254.4" y2="453.87" stroke="#f5f5f5" stroke-width="1.8"/>
<line x1="150.5" y1="461.5" x2="254.4" y2="461.5" stroke="#f5f5f5" stroke-width="1.8"/>
<line x1="150.5" y1="469.13" x2="254.4" y2="469.13" stroke="#f5f5f5" stroke-width="1.8"/>
<line x1="150.5" y1="476.76" x2="254.4" y2="476.76" stroke="#f5f5f5" stroke-width="1.8"/>
<line x1="150.5" y1="484.39" x2="254.4" y2="484.39" stroke="#f5f5f5" stroke-width="1.8"/>
<line x1="150.5" y1="492.02" x2="254.4" y2="492.02" stroke="#f5f5f5" stroke-width="1.8"/>
<line x1="150.5" y1="499.65" x2="254.4" y2="499.65" stroke="#f5f5f5" stroke-width="1.8"/>
<line x1="150.5" y1="507.28" x2="254.4" y2="507.28" stroke="#f5f5f5" stroke-width="1.8"/>
<line x1="150.5" y1="514.91" x2="254.4" y2="514.91" stroke="#f5f5f5" stroke-width="1.8"/>
<line x1="150.5" y1="522.54" x2="254.4" y2="522.54" stroke="#f5f5f5" stroke-width="1.8"/>
<line x1="150.5" y1="530.17" x2="254.4" y2="530.17" stroke="#f5f5f5" stroke-width="1.8"/>
<line x1="154.9" y1="385.2" x2="202.6" y2="385.2" stroke="#ff0018" stroke-width="1.0" stroke-opacity="0.62"/>
<circle cx="202.6" cy="385.2" r="1.6" fill="#ff0018"/>
<line x1="149.2" y1="385.2" x2="150.5" y2="385.2" stroke="#777" stroke-width="0.45"/>
<text x="147.8" y="386.9" text-anchor="end" font-size="4.62" fill="#585858" stroke="#585858" stroke-width="0.06">Cytokine binding</text>
<line x1="154.9" y1="392.83" x2="217.8" y2="392.83" stroke="#ee008d" stroke-width="1.0" stroke-opacity="0.62"/>
<circle cx="217.8" cy="392.83" r="1.35" fill="#ee008d"/>
<line x1="149.2" y1="392.83" x2="150.5" y2="392.83" stroke="#777" stroke-width="0.45"/>
<text x="147.8" y="394.53" text-anchor="end" font-size="4.62" fill="#585858" stroke="#585858" stroke-width="0.06">Chemokine binding</text>
<line x1="154.9" y1="400.46" x2="217.8" y2="400.46" stroke="#ee008d" stroke-width="1.0" stroke-opacity="0.62"/>
<circle cx="217.8" cy="400.46" r="1.35" fill="#ee008d"/>
<line x1="149.2" y1="400.46" x2="150.5" y2="400.46" stroke="#777" stroke-width="0.45"/>
<text x="147.8" y="402.16" text-anchor="end" font-size="4.62" fill="#585858" stroke="#585858" stroke-width="0.06">Antigen binding</text>
<line x1="154.9" y1="408.09" x2="183.9" y2="408.09" stroke="#e600a0" stroke-width="1.0" stroke-opacity="0.62"/>
<circle cx="183.9" cy="408.09" r="2" fill="#e600a0"/>
<line x1="149.2" y1="408.09" x2="150.5" y2="408.09" stroke="#777" stroke-width="0.45"/>
<text x="147.8" y="409.79" text-anchor="end" font-size="4.62" fill="#585858" stroke="#585858" stroke-width="0.06">Secondary active transmembrane transporter activity</text>
<line x1="154.9" y1="415.72" x2="192.8" y2="415.72" stroke="#e600a0" stroke-width="1.0" stroke-opacity="0.62"/>
<circle cx="192.8" cy="415.72" r="1.6" fill="#e600a0"/>
<line x1="149.2" y1="415.72" x2="150.5" y2="415.72" stroke="#777" stroke-width="0.45"/>
<text x="147.8" y="417.42" text-anchor="end" font-size="4.62" fill="#585858" stroke="#585858" stroke-width="0.06">Cytokine receptor activity</text>
<line x1="154.9" y1="423.35" x2="191" y2="423.35" stroke="#e600a0" stroke-width="1.0" stroke-opacity="0.62"/>
<circle cx="191" cy="423.35" r="1.5" fill="#e600a0"/>
<line x1="149.2" y1="423.35" x2="150.5" y2="423.35" stroke="#777" stroke-width="0.45"/>
<text x="147.8" y="425.05" text-anchor="end" font-size="4.62" fill="#585858" stroke="#585858" stroke-width="0.06">Organic anion transmembrane transporter activity</text>
<line x1="154.9" y1="430.98" x2="178.5" y2="430.98" stroke="#e300a6" stroke-width="1.0" stroke-opacity="0.62"/>
<circle cx="178.5" cy="430.98" r="2.1" fill="#e300a6"/>
<line x1="149.2" y1="430.98" x2="150.5" y2="430.98" stroke="#777" stroke-width="0.45"/>
<text x="147.8" y="432.68" text-anchor="end" font-size="4.62" fill="#585858" stroke="#585858" stroke-width="0.06">Active transmembrane transporter activity</text>
<line x1="154.9" y1="438.61" x2="172.7" y2="438.61" stroke="#e300a6" stroke-width="1.0" stroke-opacity="0.62"/>
<circle cx="172.7" cy="438.61" r="3.25" fill="#e300a6"/>
<line x1="149.2" y1="438.61" x2="150.5" y2="438.61" stroke="#777" stroke-width="0.45"/>
<text x="147.8" y="440.31" text-anchor="end" font-size="4.62" fill="#585858" stroke="#585858" stroke-width="0.06">Transmembrane transporter activity</text>
<line x1="154.9" y1="446.24" x2="212.8" y2="446.24" stroke="#d500bd" stroke-width="1.0" stroke-opacity="0.62"/>
<circle cx="212.8" cy="446.24" r="1.35" fill="#d500bd"/>
<line x1="149.2" y1="446.24" x2="150.5" y2="446.24" stroke="#777" stroke-width="0.45"/>
<text x="147.8" y="447.94" text-anchor="end" font-size="4.62" fill="#585858" stroke="#585858" stroke-width="0.06">C-C chemokine binding</text>
<line x1="154.9" y1="453.87" x2="211.1" y2="453.87" stroke="#d500bd" stroke-width="1.0" stroke-opacity="0.62"/>
<circle cx="211.1" cy="453.87" r="1.35" fill="#d500bd"/>
<line x1="149.2" y1="453.87" x2="150.5" y2="453.87" stroke="#777" stroke-width="0.45"/>
<text x="147.8" y="455.57" text-anchor="end" font-size="4.62" fill="#585858" stroke="#585858" stroke-width="0.06">C-C chemokine receptor activity</text>
<line x1="154.9" y1="461.5" x2="188.3" y2="461.5" stroke="#d500bd" stroke-width="1.0" stroke-opacity="0.62"/>
<circle cx="188.3" cy="461.5" r="1.5" fill="#d500bd"/>
<line x1="149.2" y1="461.5" x2="150.5" y2="461.5" stroke="#777" stroke-width="0.45"/>
<text x="147.8" y="463.2" text-anchor="end" font-size="4.62" fill="#585858" stroke="#585858" stroke-width="0.06">Immune receptor activity</text>
<line x1="154.9" y1="469.13" x2="173.5" y2="469.13" stroke="#d500bd" stroke-width="1.0" stroke-opacity="0.62"/>
<circle cx="173.5" cy="469.13" r="2.65" fill="#d500bd"/>
<line x1="149.2" y1="469.13" x2="150.5" y2="469.13" stroke="#777" stroke-width="0.45"/>
<text x="147.8" y="470.83" text-anchor="end" font-size="4.62" fill="#585858" stroke="#585858" stroke-width="0.06">Enzyme regulator activity</text>
<line x1="154.9" y1="476.76" x2="208.6" y2="476.76" stroke="#d100c3" stroke-width="1.0" stroke-opacity="0.62"/>
<circle cx="208.6" cy="476.76" r="1.25" fill="#d100c3"/>
<line x1="149.2" y1="476.76" x2="150.5" y2="476.76" stroke="#777" stroke-width="0.45"/>
<text x="147.8" y="478.46" text-anchor="end" font-size="4.62" fill="#585858" stroke="#585858" stroke-width="0.06">G protein-coupled chemoattractant receptor activity</text>
<line x1="154.9" y1="484.39" x2="208.6" y2="484.39" stroke="#d100c3" stroke-width="1.0" stroke-opacity="0.62"/>
<circle cx="208.6" cy="484.39" r="1.25" fill="#d100c3"/>
<line x1="149.2" y1="484.39" x2="150.5" y2="484.39" stroke="#777" stroke-width="0.45"/>
<text x="147.8" y="486.09" text-anchor="end" font-size="4.62" fill="#585858" stroke="#585858" stroke-width="0.06">Chemokine receptor activity</text>
<line x1="154.9" y1="492.02" x2="180.8" y2="492.02" stroke="#d100c3" stroke-width="1.0" stroke-opacity="0.62"/>
<circle cx="180.8" cy="492.02" r="1.85" fill="#d100c3"/>
<line x1="149.2" y1="492.02" x2="150.5" y2="492.02" stroke="#777" stroke-width="0.45"/>
<text x="147.8" y="493.72" text-anchor="end" font-size="4.62" fill="#585858" stroke="#585858" stroke-width="0.06">Active ion transmembrane transporter activity</text>
<line x1="154.9" y1="499.65" x2="171.8" y2="499.65" stroke="#d100c3" stroke-width="1.0" stroke-opacity="0.62"/>
<circle cx="171.8" cy="499.65" r="3.25" fill="#d100c3"/>
<line x1="149.2" y1="499.65" x2="150.5" y2="499.65" stroke="#777" stroke-width="0.45"/>
<text x="147.8" y="501.35" text-anchor="end" font-size="4.62" fill="#585858" stroke="#585858" stroke-width="0.06">Transporter activity</text>
<line x1="154.9" y1="507.28" x2="249.8" y2="507.28" stroke="#c200d1" stroke-width="1.0" stroke-opacity="0.62"/>
<circle cx="249.8" cy="507.28" r="0.85" fill="#c200d1"/>
<line x1="149.2" y1="507.28" x2="150.5" y2="507.28" stroke="#777" stroke-width="0.45"/>
<text x="147.8" y="508.98" text-anchor="end" font-size="4.62" fill="#585858" stroke="#585858" stroke-width="0.06">Xenobiotic transmembrane transporter activity</text>
<line x1="154.9" y1="514.91" x2="203.6" y2="514.91" stroke="#4d00ff" stroke-width="1.0" stroke-opacity="0.62"/>
<circle cx="203.6" cy="514.91" r="1.25" fill="#4d00ff"/>
<line x1="149.2" y1="514.91" x2="150.5" y2="514.91" stroke="#777" stroke-width="0.45"/>
<text x="147.8" y="516.61" text-anchor="end" font-size="4.62" fill="#585858" stroke="#585858" stroke-width="0.06">Structural constituent of cytoskeleton</text>
<line x1="154.9" y1="522.54" x2="213.2" y2="522.54" stroke="#2000ff" stroke-width="1.0" stroke-opacity="0.62"/>
<circle cx="213.2" cy="522.54" r="1.25" fill="#2000ff"/>
<line x1="149.2" y1="522.54" x2="150.5" y2="522.54" stroke="#777" stroke-width="0.45"/>
<text x="147.8" y="524.24" text-anchor="end" font-size="4.62" fill="#585858" stroke="#585858" stroke-width="0.06">Syntaxin-1 binding</text>
<line x1="154.9" y1="530.17" x2="202.4" y2="530.17" stroke="#2000ff" stroke-width="1.0" stroke-opacity="0.62"/>
<circle cx="202.4" cy="530.17" r="1.25" fill="#2000ff"/>
<line x1="149.2" y1="530.17" x2="150.5" y2="530.17" stroke="#777" stroke-width="0.45"/>
<text x="147.8" y="531.87" text-anchor="end" font-size="4.62" fill="#585858" stroke="#585858" stroke-width="0.06">L-amino acid transmembrane transporter activity</text>
<line x1="154.9" y1="534.2" x2="154.9" y2="535.6" stroke="#888" stroke-width="0.45"/>
<text x="154.9" y="539.8" text-anchor="middle" font-size="4.5" fill="#333">0</text>
<line x1="179" y1="534.2" x2="179" y2="535.6" stroke="#888" stroke-width="0.45"/>
<text x="179" y="539.8" text-anchor="middle" font-size="4.5" fill="#333">2</text>
<line x1="203.1" y1="534.2" x2="203.1" y2="535.6" stroke="#888" stroke-width="0.45"/>
<text x="203.1" y="539.8" text-anchor="middle" font-size="4.5" fill="#333">4</text>
<line x1="227.2" y1="534.2" x2="227.2" y2="535.6" stroke="#888" stroke-width="0.45"/>
<text x="227.2" y="539.8" text-anchor="middle" font-size="4.5" fill="#333">6</text>
<line x1="251.3" y1="534.2" x2="251.3" y2="535.6" stroke="#888" stroke-width="0.45"/>
<text x="251.3" y="539.8" text-anchor="middle" font-size="4.5" fill="#333">8</text>
<text x="202.45" y="544.2" text-anchor="middle" font-size="3.2" fill="#111">Fold Enrichment</text>
<text x="23.1" y="395" font-size="10.6" font-weight="bold" fill="#000">E</text>
<text x="258.8" y="443.6" font-size="3.3" fill="#000">% of Genes</text>
<circle cx="261.8" cy="447.1" r="2.05" fill="#000"/>
<text x="266.7" y="448.2" font-size="3.3" fill="#000">50</text>
<circle cx="261.8" cy="452.8" r="2.45" fill="#000"/>
<text x="266.7" y="453.9" font-size="3.3" fill="#000">100</text>
<text x="258.8" y="464" font-size="3.3" fill="#000">-log10(FDR)</text>
<rect x="258.8" y="466.4" width="4" height="3.2" fill="#cc00cc"/>
<text x="265" y="469.1" font-size="3.3" fill="#000">3</text>
<rect x="258.8" y="471" width="4" height="3.2" fill="#ff0066"/>
<text x="265" y="473.7" font-size="3.3" fill="#000">4</text>
<rect x="482.5" y="381.4" width="34.8" height="150.4" fill="#ebebeb"/>
<line x1="489.17" y1="381.4" x2="489.17" y2="531.8" stroke="#eeeeee" stroke-width="0.5"/>
<line x1="499.3" y1="381.4" x2="499.3" y2="531.8" stroke="#eeeeee" stroke-width="0.5"/>
<line x1="509.44" y1="381.4" x2="509.44" y2="531.8" stroke="#eeeeee" stroke-width="0.5"/>
<line x1="484.1" y1="381.4" x2="484.1" y2="531.8" stroke="#f1f1f1" stroke-width="0.7"/>
<line x1="494.24" y1="381.4" x2="494.24" y2="531.8" stroke="#f1f1f1" stroke-width="0.7"/>
<line x1="504.37" y1="381.4" x2="504.37" y2="531.8" stroke="#f1f1f1" stroke-width="0.7"/>
<line x1="514.5" y1="381.4" x2="514.5" y2="531.8" stroke="#f1f1f1" stroke-width="0.7"/>
<line x1="482.5" y1="386.6" x2="517.3" y2="386.6" stroke="#f5f5f5" stroke-width="1.8"/>
<line x1="482.5" y1="394.88" x2="517.3" y2="394.88" stroke="#f5f5f5" stroke-width="1.8"/>
<line x1="482.5" y1="403.16" x2="517.3" y2="403.16" stroke="#f5f5f5" stroke-width="1.8"/>
<line x1="482.5" y1="411.44" x2="517.3" y2="411.44" stroke="#f5f5f5" stroke-width="1.8"/>
<line x1="482.5" y1="419.72" x2="517.3" y2="419.72" stroke="#f5f5f5" stroke-width="1.8"/>
<line x1="482.5" y1="428" x2="517.3" y2="428" stroke="#f5f5f5" stroke-width="1.8"/>
<line x1="482.5" y1="436.28" x2="517.3" y2="436.28" stroke="#f5f5f5" stroke-width="1.8"/>
<line x1="482.5" y1="444.56" x2="517.3" y2="444.56" stroke="#f5f5f5" stroke-width="1.8"/>
<line x1="482.5" y1="452.84" x2="517.3" y2="452.84" stroke="#f5f5f5" stroke-width="1.8"/>
<line x1="482.5" y1="461.12" x2="517.3" y2="461.12" stroke="#f5f5f5" stroke-width="1.8"/>
<line x1="482.5" y1="469.4" x2="517.3" y2="469.4" stroke="#f5f5f5" stroke-width="1.8"/>
<line x1="482.5" y1="477.68" x2="517.3" y2="477.68" stroke="#f5f5f5" stroke-width="1.8"/>
<line x1="482.5" y1="485.96" x2="517.3" y2="485.96" stroke="#f5f5f5" stroke-width="1.8"/>
<line x1="482.5" y1="494.24" x2="517.3" y2="494.24" stroke="#f5f5f5" stroke-width="1.8"/>
<line x1="482.5" y1="502.52" x2="517.3" y2="502.52" stroke="#f5f5f5" stroke-width="1.8"/>
<line x1="482.5" y1="510.8" x2="517.3" y2="510.8" stroke="#f5f5f5" stroke-width="1.8"/>
<line x1="482.5" y1="519.08" x2="517.3" y2="519.08" stroke="#f5f5f5" stroke-width="1.8"/>
<line x1="482.5" y1="527.36" x2="517.3" y2="527.36" stroke="#f5f5f5" stroke-width="1.8"/>
<line x1="484.1" y1="386.6" x2="487.5" y2="386.6" stroke="#ff0000" stroke-width="1.0" stroke-opacity="0.62"/>
<circle cx="487.5" cy="386.6" r="3.25" fill="#ff0000"/>
<line x1="481.2" y1="386.6" x2="482.5" y2="386.6" stroke="#777" stroke-width="0.45"/>
<text x="477.6" y="388.3" text-anchor="end" font-size="4.57" fill="#585858" stroke="#585858" stroke-width="0.06">Oxidoreductase activity</text>
<line x1="484.1" y1="394.88" x2="494.9" y2="394.88" stroke="#ff0030" stroke-width="1.0" stroke-opacity="0.62"/>
<circle cx="494.9" cy="394.88" r="1.65" fill="#ff0030"/>
<line x1="481.2" y1="394.88" x2="482.5" y2="394.88" stroke="#777" stroke-width="0.45"/>
<text x="477.6" y="396.58" text-anchor="end" font-size="4.57" fill="#585858" stroke="#585858" stroke-width="0.06">Oxidoreduction-driven active transmembrane transporter activity</text>
<line x1="484.1" y1="403.16" x2="499.9" y2="403.16" stroke="#ff0042" stroke-width="1.0" stroke-opacity="0.62"/>
<circle cx="499.9" cy="403.16" r="1.6" fill="#ff0042"/>
<line x1="481.2" y1="403.16" x2="482.5" y2="403.16" stroke="#777" stroke-width="0.45"/>
<text x="477.6" y="404.86" text-anchor="end" font-size="4.57" fill="#585858" stroke="#585858" stroke-width="0.06">NADH dehydrogenase (ubiquinone) activity</text>
<line x1="484.1" y1="411.44" x2="498.7" y2="411.44" stroke="#ff0042" stroke-width="1.0" stroke-opacity="0.62"/>
<circle cx="498.7" cy="411.44" r="1.5" fill="#ff0042"/>
<line x1="481.2" y1="411.44" x2="482.5" y2="411.44" stroke="#777" stroke-width="0.45"/>
<text x="477.6" y="413.14" text-anchor="end" font-size="4.57" fill="#585858" stroke="#585858" stroke-width="0.06">Oxidoreductase activity, acting on NAD(P)H, quinone or similar compound as accep</text>
<line x1="484.1" y1="419.72" x2="494.3" y2="419.72" stroke="#ff0042" stroke-width="1.0" stroke-opacity="0.62"/>
<circle cx="494.3" cy="419.72" r="1.75" fill="#ff0042"/>
<line x1="481.2" y1="419.72" x2="482.5" y2="419.72" stroke="#777" stroke-width="0.45"/>
<text x="477.6" y="421.42" text-anchor="end" font-size="4.57" fill="#585858" stroke="#585858" stroke-width="0.06">Oxidoreductase activity, acting on NAD(P)H</text>
<line x1="484.1" y1="428" x2="492" y2="428" stroke="#ff005b" stroke-width="1.0" stroke-opacity="0.62"/>
<circle cx="492" cy="428" r="1.85" fill="#ff005b"/>
<line x1="481.2" y1="428" x2="482.5" y2="428" stroke="#777" stroke-width="0.45"/>
<text x="477.6" y="429.7" text-anchor="end" font-size="4.57" fill="#585858" stroke="#585858" stroke-width="0.06">Electron transfer activity</text>
<line x1="484.1" y1="436.28" x2="499.1" y2="436.28" stroke="#ff005b" stroke-width="1.0" stroke-opacity="0.62"/>
<circle cx="499.1" cy="436.28" r="1.6" fill="#ff005b"/>
<line x1="481.2" y1="436.28" x2="482.5" y2="436.28" stroke="#777" stroke-width="0.45"/>
<text x="477.6" y="437.98" text-anchor="end" font-size="4.57" fill="#585858" stroke="#585858" stroke-width="0.06">NAD(P)H dehydrogenase (quinone) activity</text>
<line x1="484.1" y1="444.56" x2="489.4" y2="444.56" stroke="#ee008d" stroke-width="1.0" stroke-opacity="0.62"/>
<circle cx="489.4" cy="444.56" r="1.95" fill="#ee008d"/>
<line x1="481.2" y1="444.56" x2="482.5" y2="444.56" stroke="#777" stroke-width="0.45"/>
<text x="477.6" y="446.26" text-anchor="end" font-size="4.57" fill="#585858" stroke="#585858" stroke-width="0.06">Primary active transmembrane transporter activity</text>
<line x1="484.1" y1="452.84" x2="490.1" y2="452.84" stroke="#d500bd" stroke-width="1.0" stroke-opacity="0.62"/>
<circle cx="490.1" cy="452.84" r="1.75" fill="#d500bd"/>
<line x1="481.2" y1="452.84" x2="482.5" y2="452.84" stroke="#777" stroke-width="0.45"/>
<text x="477.6" y="454.54" text-anchor="end" font-size="4.57" fill="#585858" stroke="#585858" stroke-width="0.06">Proton transmembrane transporter activity</text>
<line x1="484.1" y1="461.12" x2="515.6" y2="461.12" stroke="#c200d1" stroke-width="1.0" stroke-opacity="0.62"/>
<circle cx="515.6" cy="461.12" r="1.1" fill="#c200d1"/>
<line x1="481.2" y1="461.12" x2="482.5" y2="461.12" stroke="#777" stroke-width="0.45"/>
<text x="477.6" y="462.82" text-anchor="end" font-size="4.57" fill="#585858" stroke="#585858" stroke-width="0.06">Arylesterase activity</text>
<line x1="484.1" y1="469.4" x2="487.5" y2="469.4" stroke="#8700ee" stroke-width="1.0" stroke-opacity="0.62"/>
<circle cx="487.5" cy="469.4" r="2.25" fill="#8700ee"/>
<line x1="481.2" y1="469.4" x2="482.5" y2="469.4" stroke="#777" stroke-width="0.45"/>
<text x="477.6" y="471.1" text-anchor="end" font-size="4.57" fill="#585858" stroke="#585858" stroke-width="0.06">Active transmembrane transporter activity</text>
<line x1="484.1" y1="477.68" x2="499.9" y2="477.68" stroke="#8700ee" stroke-width="1.0" stroke-opacity="0.62"/>
<circle cx="499.9" cy="477.68" r="1.25" fill="#8700ee"/>
<line x1="481.2" y1="477.68" x2="482.5" y2="477.68" stroke="#777" stroke-width="0.45"/>
<text x="477.6" y="479.38" text-anchor="end" font-size="4.57" fill="#585858" stroke="#585858" stroke-width="0.06">Proton-transporting ATP synthase activity, rotational mechanism</text>
<line x1="484.1" y1="485.96" x2="515.9" y2="485.96" stroke="#9a00e6" stroke-width="1.0" stroke-opacity="0.62"/>
<circle cx="515.9" cy="485.96" r="0.85" fill="#9a00e6"/>
<line x1="481.2" y1="485.96" x2="482.5" y2="485.96" stroke="#777" stroke-width="0.45"/>
<text x="477.6" y="487.66" text-anchor="end" font-size="4.57" fill="#585858" stroke="#585858" stroke-width="0.06">Pyruvate transmembrane transporter activity</text>
<line x1="484.1" y1="494.24" x2="515.9" y2="494.24" stroke="#9a00e6" stroke-width="1.0" stroke-opacity="0.62"/>
<circle cx="515.9" cy="494.24" r="0.85" fill="#9a00e6"/>
<line x1="481.2" y1="494.24" x2="482.5" y2="494.24" stroke="#777" stroke-width="0.45"/>
<text x="477.6" y="495.94" text-anchor="end" font-size="4.57" fill="#585858" stroke="#585858" stroke-width="0.06">Gamma-glutamylaminecyclotransferase activity</text>
<line x1="484.1" y1="502.52" x2="498.4" y2="502.52" stroke="#6c00fa" stroke-width="1.0" stroke-opacity="0.62"/>
<circle cx="498.4" cy="502.52" r="1.35" fill="#6c00fa"/>
<line x1="481.2" y1="502.52" x2="482.5" y2="502.52" stroke="#777" stroke-width="0.45"/>
<text x="477.6" y="504.22" text-anchor="end" font-size="4.57" fill="#585858" stroke="#585858" stroke-width="0.06">Proton channel activity</text>
<line x1="484.1" y1="510.8" x2="491.1" y2="510.8" stroke="#2000ff" stroke-width="1.0" stroke-opacity="0.62"/>
<circle cx="491.1" cy="510.8" r="1.6" fill="#2000ff"/>
<line x1="481.2" y1="510.8" x2="482.5" y2="510.8" stroke="#777" stroke-width="0.45"/>
<text x="477.6" y="512.5" text-anchor="end" font-size="4.57" fill="#585858" stroke="#585858" stroke-width="0.06">Monocarboxylic acid transmembrane transporter activity</text>
<line x1="484.1" y1="519.08" x2="489.8" y2="519.08" stroke="#2000ff" stroke-width="1.0" stroke-opacity="0.62"/>
<circle cx="489.8" cy="519.08" r="1.65" fill="#2000ff"/>
<line x1="481.2" y1="519.08" x2="482.5" y2="519.08" stroke="#777" stroke-width="0.45"/>
<text x="477.6" y="520.78" text-anchor="end" font-size="4.57" fill="#585858" stroke="#585858" stroke-width="0.06">NAD binding</text>
<line x1="484.1" y1="527.36" x2="496.4" y2="527.36" stroke="#2000ff" stroke-width="1.0" stroke-opacity="0.62"/>
<circle cx="496.4" cy="527.36" r="1.5" fill="#2000ff"/>
<line x1="481.2" y1="527.36" x2="482.5" y2="527.36" stroke="#777" stroke-width="0.45"/>
<text x="477.6" y="529.06" text-anchor="end" font-size="4.57" fill="#585858" stroke="#585858" stroke-width="0.06">ATP-activated inward rectifier potassium channel activity</text>
<line x1="484.1" y1="531.8" x2="484.1" y2="533.2" stroke="#888" stroke-width="0.45"/>
<text x="484.1" y="537.4" text-anchor="middle" font-size="4.5" fill="#333">0</text>
<line x1="494.24" y1="531.8" x2="494.24" y2="533.2" stroke="#888" stroke-width="0.45"/>
<text x="494.24" y="537.4" text-anchor="middle" font-size="4.5" fill="#333">5</text>
<line x1="504.37" y1="531.8" x2="504.37" y2="533.2" stroke="#888" stroke-width="0.45"/>
<text x="504.37" y="537.4" text-anchor="middle" font-size="4.5" fill="#333">10</text>
<line x1="514.5" y1="531.8" x2="514.5" y2="533.2" stroke="#888" stroke-width="0.45"/>
<text x="514.5" y="537.4" text-anchor="middle" font-size="4.5" fill="#333">15</text>
<text x="499.9" y="542.5" text-anchor="middle" font-size="3.2" fill="#111">Fold Enrichment</text>
<text x="287.7" y="395" font-size="10.6" font-weight="bold" fill="#000">F</text>
<text x="525.1" y="428.9" font-size="3.3" fill="#000">% of Genes</text>
<circle cx="528.1" cy="432.7" r="1.45" fill="#000"/>
<text x="533.2" y="433.8" font-size="3.3" fill="#000">30</text>
<circle cx="528.1" cy="437.5" r="1.8" fill="#000"/>
<text x="533.2" y="438.6" font-size="3.3" fill="#000">60</text>
<circle cx="528.1" cy="443.3" r="2.35" fill="#000"/>
<text x="533.2" y="444.4" font-size="3.3" fill="#000">90</text>
<text x="525.1" y="459.7" font-size="3.3" fill="#000">-log10(FDR)</text>
<rect x="525.2" y="461.7" width="4" height="3.2" fill="#7300f7"/>
<text x="531.5" y="464.4" font-size="3.3" fill="#000">2</text>
<rect x="525.2" y="466.1" width="4" height="3.2" fill="#a400e1"/>
<text x="531.5" y="468.8" font-size="3.3" fill="#000">3</text>
<rect x="525.2" y="470.4" width="4" height="3.2" fill="#d500bd"/>
<text x="531.5" y="473.1" font-size="3.3" fill="#000">4</text>
<rect x="525.2" y="475" width="4" height="3.2" fill="#f30081"/>
<text x="531.5" y="477.7" font-size="3.3" fill="#000">5</text>
<rect x="525.2" y="479.6" width="4" height="3.2" fill="#ff004d"/>
<text x="531.5" y="482.3" font-size="3.3" fill="#000">6</text>
<rect x="525.2" y="484.3" width="4" height="3.2" fill="#ff0000"/>
<text x="531.5" y="487" font-size="3.3" fill="#000">7</text>
<text transform="translate(175.6 16.6) scale(0.965 1)" text-anchor="middle" font-size="15.55" font-weight="bold" fill="#000">Upregulated</text>
<text transform="translate(409.4 16.1) scale(0.965 1)" text-anchor="middle" font-size="15.55" font-weight="bold" fill="#000">Downregulated</text>
<text transform="translate(15.5 104.4) rotate(-90)" text-anchor="middle" font-size="15.12" font-weight="bold" fill="#000">Biological process</text>
<text transform="translate(15.5 278.5) rotate(-90)" text-anchor="middle" font-size="15.12" font-weight="bold" fill="#000">Cell compartment</text>
<text transform="translate(15.5 458.4) rotate(-90)" text-anchor="middle" font-size="15.12" font-weight="bold" fill="#000">Molecular function</text>
</svg></body></html>
